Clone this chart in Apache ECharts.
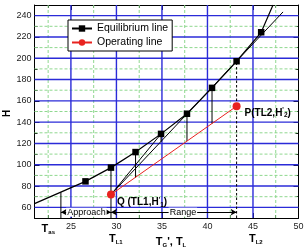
<!DOCTYPE html>
<html><head><meta charset="utf-8">
<script src="https://cdn.jsdelivr.net/npm/echarts@6/dist/echarts.min.js"></script>
<style>html,body{margin:0;padding:0;background:#fff}#c{width:307px;height:251px}</style>
</head><body><div id="c"></div>
<script>
// ---- data ----
const xMajor = [25, 30, 35, 40, 45, 50];
const xMinor = [22.5, 27.5, 32.5, 37.5, 42.5, 47.5];
const yMajor = [60, 80, 100, 120, 140, 160, 180, 200, 220, 240];
const yMinor = [70, 90, 110, 130, 150, 170, 190, 210, 230];
const eqT = [26.6, 29.4, 32.1, 34.9, 37.75, 40.5, 43.2, 45.9];
const eqH = [84.4, 97.3, 111.9, 129, 147.9, 172.2, 197.2, 224.4];
const eqStart = [21, 63.5];
const eqEnd = [47.2, 250];
const opT = [29.4, 43.2];
const opH = [72, 155];
const tangentEnd = [48.3, 243.5];
const stairT = [32.1, 34.9, 37.75, 40.5];
const stairLow = [87.7, 121.6, 122.2, 138.6];
const stairHigh = [111.9, 129, 147.9, 172.2];
const tAs = 23.9, hAs = 74.2;
const arrowH = 55.5;
const approachLabelT = 26.7, rangeLabelT = 37.3;
const tAsLabelT = 22.0, tGLabelT = 35.2;
const yName = 'H';

const FONT = 'Arial, "Liberation Sans", sans-serif';
const BLUE = '#2b2bd8', GREEN = '#8fd88f';
const XMIN = 21, XMAX = 50, YMIN = 50, YMAX = 250;

const chart = echarts.init(document.getElementById('c'));

function seg(a, b, color, width, type) {
  return { type: 'line', xAxisIndex: 0, yAxisIndex: 0, data: [a, b], symbol: 'none', silent: true,
    animation: false, lineStyle: { color: color, width: width, type: type || 'solid' } };
}
const series = [];
xMinor.forEach(v => series.push(seg([v, YMIN], [v, YMAX], GREEN, 1, [3, 2])));
yMinor.forEach(v => series.push(seg([XMIN, v], [XMAX, v], GREEN, 1, [3, 2])));
xMajor.filter(v => v < XMAX).forEach(v => series.push(seg([v, YMIN], [v, YMAX], BLUE, 1.4)));
yMajor.forEach(v => series.push(seg([XMIN, v], [XMAX, v], BLUE, 1.4)));

// construction lines
series.push(seg([opT[0], opH[0]], tangentEnd, '#000', 1));
series.push(seg([opT[0], opH[0]], [eqT[3], eqH[3]], '#000', 1));
series.push(seg([opT[0], YMIN], [eqT[1], eqH[1]], '#000', 1));
stairT.forEach((t, i) => series.push(seg([t, stairLow[i]], [t, stairHigh[i]], '#000', 1)));
series.push(seg([opT[1], YMIN], [eqT[6], eqH[6]], '#000', 1, [2.5, 2]));
const tasSeries = seg([tAs, YMIN], [tAs, hAs], '#000', 1);
tasSeries.markLine = {
  silent: true, animation: false, symbol: ['arrow', 'arrow'], symbolSize: [5, 6],
  label: { show: false }, lineStyle: { color: '#000', width: 1, type: 'solid' },
  data: [
    [{ coord: [tAs, arrowH] }, { coord: [opT[0], arrowH] }],
    [{ coord: [opT[0], arrowH] }, { coord: [opT[1], arrowH] }]
  ]
};
series.push(tasSeries);

series.push({
  name: 'Equilibrium line', type: 'line', xAxisIndex: 0, yAxisIndex: 0, animation: false,
  symbol: 'rect', symbolSize: 6.5, itemStyle: { color: '#000' }, lineStyle: { color: '#000', width: 1.2 },
  data: [{ value: eqStart, symbol: 'none' }].concat(eqT.map((t, i) => [t, eqH[i]])).concat([{ value: eqEnd, symbol: 'none' }])
});
series.push({
  name: 'Operating line', type: 'line', xAxisIndex: 0, yAxisIndex: 0, animation: false,
  symbol: 'circle', symbolSize: 8, itemStyle: { color: '#e8231f' }, lineStyle: { color: '#e8231f', width: 1 },
  data: opT.map((t, i) => [t, opH[i]])
});

function xAx(grid, pos, ticks, len, labels, line) {
  return { gridIndex: grid, type: 'value', min: XMIN, max: XMAX, position: pos,
    axisLine: { show: line, onZero: false, lineStyle: { color: '#000', width: 1 } },
    axisTick: { show: true, inside: true, length: len, customValues: ticks, lineStyle: { color: '#000', width: 1 } },
    axisLabel: labels ? { show: true, customValues: ticks, fontSize: 9, color: '#222', margin: 4, fontFamily: FONT } : { show: false },
    splitLine: { show: false } };
}
function yAx(grid, pos, ticks, len, labels, line) {
  return { gridIndex: grid, type: 'value', min: YMIN, max: YMAX, position: pos,
    axisLine: { show: line, onZero: false, lineStyle: { color: '#000', width: 1 } },
    axisTick: { show: true, inside: true, length: len, customValues: ticks, lineStyle: { color: '#000', width: 1 } },
    axisLabel: labels ? { show: true, customValues: ticks, fontSize: 9, color: '#222', margin: 3, fontFamily: FONT } : { show: false },
    splitLine: { show: false } };
}
const rect = { left: 34.5, right: 8.5, top: 5, bottom: 33, containLabel: false, outerBoundsMode: 'none' };

chart.setOption({
  animation: false,
  grid: [Object.assign({}, rect), Object.assign({}, rect)],
  xAxis: [xAx(0, 'bottom', xMajor, 5, true, true), xAx(0, 'top', xMajor, 5, false, true),
          xAx(1, 'bottom', xMinor, 3, false, false), xAx(1, 'top', xMinor, 3, false, false)],
  yAxis: [yAx(0, 'left', yMajor, 5, true, true), yAx(0, 'right', yMajor, 5, false, true),
          yAx(1, 'left', yMinor, 3, false, false), yAx(1, 'right', yMinor, 3, false, false)],
  legend: {
    data: ['Equilibrium line', 'Operating line'], orient: 'vertical', left: 68, top: 20,
    backgroundColor: '#fff', borderColor: '#000', borderWidth: 1, borderRadius: 0,
    padding: [3, 4, 3, 3], itemGap: 3, itemWidth: 20, itemHeight: 8,
    textStyle: { fontSize: 10.5, color: '#000', fontFamily: FONT }
  },
  series: series
});

const px = v => chart.convertToPixel({ gridIndex: 0 }, v);
const Q = px([opT[0], opH[0]]), P = px([opT[1], opH[1]]);
const bottomY = px([XMIN, YMIN])[1];
const midY = (px([XMIN, YMIN])[1] + px([XMIN, YMAX])[1]) / 2;
const rich = {
  b: { fontSize: 10, fontWeight: 'bold', fill: '#000', fontFamily: FONT, lineHeight: 12 },
  sup: { fontSize: 6.5, fontWeight: 'bold', fill: '#000', fontFamily: FONT, verticalAlign: 'top', lineHeight: 12 },
  sub: { fontSize: 6.5, fontWeight: 'bold', fill: '#000', fontFamily: FONT, verticalAlign: 'bottom', lineHeight: 12 },
  t: { fontSize: 11, fontWeight: 'bold', fill: '#000', fontFamily: FONT, lineHeight: 13 },
  ts: { fontSize: 6, fontWeight: 'bold', fill: '#000', fontFamily: FONT, verticalAlign: 'bottom', lineHeight: 13 }
};
function txt(x, y, text) {
  return { type: 'text', x: x, y: y, z: 100, silent: true,
    style: { text: text, rich: rich, align: 'left', verticalAlign: 'middle' } };
}
const A = px([approachLabelT, arrowH]), R = px([rangeLabelT, arrowH]);
const plain = { fontSize: 9, fill: '#000', fontFamily: FONT, backgroundColor: '#fff', padding: [0, 1] };
chart.setOption({
  graphic: [
    { type: 'text', x: 7, y: midY + 2, rotation: Math.PI / 2, z: 100, silent: true,
      style: { text: yName, fontSize: 10, fontWeight: 'bold', fill: '#000', fontFamily: FONT, align: 'center', verticalAlign: 'middle' } },
    txt(Q[0] + 6, Q[1] + 8, "{b|Q (TL1,H}{sup|'}{sub|1}{b|)}"),
    txt(P[0] + 8, P[1] + 7, "{b|P(TL2,H}{sup|'}{sub|2}{b|)}"),
    txt(px([tAsLabelT, YMIN])[0] - 2, bottomY + 11, '{t|T}{ts|as}'),
    txt(px([opT[0], YMIN])[0] - 2, bottomY + 21, '{t|T}{ts|L1}'),
    txt(px([tGLabelT, YMIN])[0] - 8, bottomY + 24, "{t|T}{ts|G}{t|', T}{ts|L}"),
    txt(px([45, YMIN])[0] - 4, bottomY + 21, '{t|T}{ts|L2}'),
    { type: 'text', x: A[0], y: A[1], z: 100, silent: true, style: Object.assign({ text: 'Approach', align: 'center', verticalAlign: 'middle' }, plain) },
    { type: 'text', x: R[0], y: R[1], z: 100, silent: true, style: Object.assign({ text: 'Range', align: 'center', verticalAlign: 'middle' }, plain) }
  ]
});
</script></body></html>
